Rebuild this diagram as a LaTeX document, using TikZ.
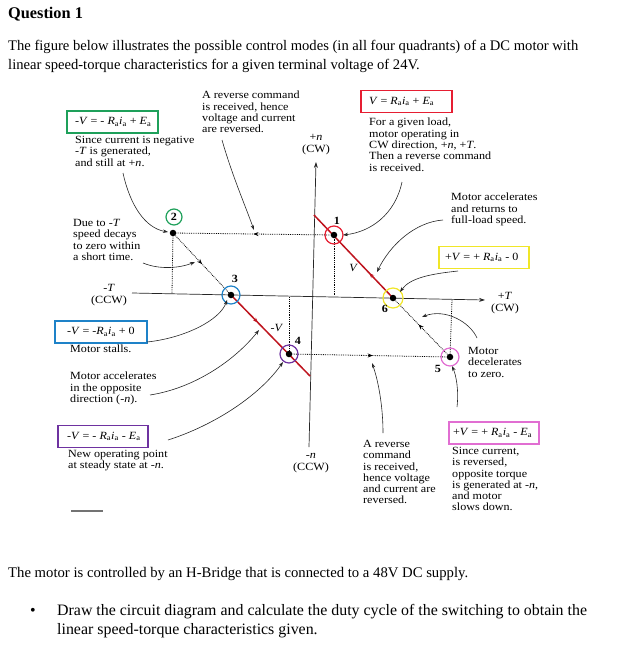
\documentclass[tikz,border=0pt]{standalone}
\usepackage{fontspec}
\setmainfont{Liberation Serif}
\newfontfamily\diagf[FakeStretch=1.1]{Liberation Serif}
\usetikzlibrary{arrows.meta,decorations.markings}
\definecolor{cred}{RGB}{230,30,50}
\definecolor{cgreen}{RGB}{30,160,90}
\definecolor{cblue}{RGB}{30,130,200}
\definecolor{cpurple}{RGB}{110,50,160}
\definecolor{cyellow}{RGB}{240,230,40}
\definecolor{cpink}{RGB}{225,110,210}
\definecolor{redline}{RGB}{190,20,30}
\newcommand\sbx[1]{\textsubscript{#1}}
\newcommand\mv[1]{\textit{#1}}
\newcommand\eqt[2]{\makebox[#1pt][l]{#2}}
\tikzset{
  dtext/.style={font=\diagf\fontsize{11}{11.3}\selectfont, align=left, anchor=north west, inner sep=0pt},
  ctext/.style={font=\diagf\fontsize{11}{12}\selectfont, align=center, anchor=north, inner sep=0pt},
  eqbox/.style={draw=#1, line width=1.1pt, minimum height=22pt, inner ysep=0pt,
    font=\diagf\fontsize{11}{12}\selectfont},
  ring/.style={circle, draw=#1, line width=1.2pt, minimum size=18pt, inner sep=0pt},
  dot/.style={circle, fill=black, minimum size=6.5pt, inner sep=0pt},
  numlab/.style={font=\diagf\bfseries\fontsize{11}{12}\selectfont, inner sep=0pt},
  axisline/.style={line width=0.7pt, black!85, -{Stealth[length=6pt,width=4pt]}},
  dotline/.style={densely dotted, line width=0.8pt},
  annot/.style={line width=0.6pt, black!85, -{Stealth[length=5pt,width=3.5pt]}},
  marr/.style={postaction={decorate,decoration={markings,mark=at position #1 with {\arrow{Stealth[length=5pt,width=4pt]}}}}},
  redseg/.style={line width=1.5pt, redline},
  body/.style={font=\fontsize{14.6}{17}\selectfont, anchor=base west, inner sep=0pt},
}
\begin{document}
\begin{tikzpicture}[x=1pt,y=-1pt]
\useasboundingbox (0,0) rectangle (619,670);
% header
\node[font=\bfseries\fontsize{16.3}{19}\selectfont, anchor=base west, inner sep=0pt] (q1) at (8,18) {Question 1};
\node[body] (b1) at (8,50) {The figure below illustrates the possible control modes (in all four quadrants) of a DC motor with};
\node[body] (b2) at (8,69) {linear speed-torque characteristics for a given terminal voltage of 24V.};
\node[body, font=\fontsize{14.7}{17}\selectfont] (b3) at (8,577) {The motor is controlled by an H-Bridge that is connected to a 48V DC supply.};
\node[body, font=\fontsize{15.9}{18}\selectfont] (bul) at (30,615) {\textbullet};
\node[body, font=\fontsize{15.9}{18}\selectfont] (b4) at (57,615) {Draw the circuit diagram and calculate the duty cycle of the switching to obtain the};
\node[body, font=\fontsize{15.9}{18}\selectfont] (b5) at (57,634) {linear speed-torque characteristics given.};

% coordinates
\coordinate (p1) at (334,235);
\coordinate (p2) at (173,233);
\coordinate (p3) at (231,295);
\coordinate (p4) at (289,354);
\coordinate (p5) at (450,357);
\coordinate (p6) at (393,298);
\coordinate (redtop) at (314,215);
\coordinate (redend) at (310,376);
\coordinate (vtop) at (316,162);
\coordinate (vbot) at (309,447);
\coordinate (hleft) at (132,293);
\coordinate (hright) at (485,300);
\coordinate (a1) at (334,296);
\coordinate (a2) at (172,293);
\coordinate (a4) at (289,297);
\coordinate (a5) at (452,300);

% axes
\draw[axisline] (vbot) -- (vtop);
\draw[axisline] (hleft) -- (hright);

% dotted lines
\draw[dotline, marr=0.5] (p1) -- (p2);
\draw[dotline] (p1) -- (a1);
\draw[dotline] (p2) -- (a2);
\draw[dotline, marr=0.5] (p2) -- (p3);
\draw[dotline] (p4) -- (a4);
\draw[dotline, marr=0.52] (p4) -- (p5);
\draw[dotline] (p5) -- (a5);
\draw[dotline, marr=0.55] (p5) -- (p6);

% red lines
\draw[redseg, marr=0.3] (p6) -- (redtop);
\draw[redseg, marr=0.34] (p3) -- (redend);

% points and rings
\foreach \p in {p1,p2,p3,p4,p5,p6} \node[dot] (d\p) at (\p) {};
\node[ring=cred] (r1) at (p1) {};
\node[ring=cblue] (r3) at (p3) {};
\node[ring=cpurple] (r4) at (p4) {};
\node[ring=cpink] (r5) at (p5) {};
\node[ring=cyellow, minimum size=20pt] (r6) at (p6) {};
\node[ring=cgreen, minimum size=16pt, numlab] (n2) at (174,217) {2};

% numbers
\node[numlab] (n1) at (337,221) {1};
\node[numlab] (n3) at (235,279) {3};
\node[numlab] (n4) at (298,341) {4};
\node[numlab] (n5) at (438,369) {5};
\node[numlab] (n6) at (385,309) {6};
\node[font=\diagf\itshape\fontsize{11}{12}\selectfont, inner sep=0pt] (lv) at (353,268) {V};
\node[font=\diagf\fontsize{11}{12}\selectfont, inner sep=0pt] (lmv) at (277,328) {-\mv{V}};

% axis labels
\node[ctext] (tpn) at (316,134) {+\mv{n}\\(CW)};
\node[ctext] (tmT) at (109,284) {-\mv{T}\\(CCW)};
\node[ctext] (tpT) at (505,292) {+\mv{T}\\(CW)};
\node[ctext] (tmn) at (311,453) {-\mv{n}\\(CCW)};

% equation boxes
\node[eqbox=cgreen, inner xsep=8pt] (eg) at (112.5,122) {\eqt{75}{-\mv{V} = - \mv{R}\sbx{a}\mv{i}\sbx{a} + \mv{E}\sbx{a}}};
\node[eqbox=cred, inner xsep=8pt] (er) at (406.5,101.5) {\eqt{75}{\mv{V} = \mv{R}\sbx{a}\mv{i}\sbx{a} + \mv{E}\sbx{a}}};
\node[eqbox=cyellow, inner xsep=6pt] (ey) at (484,257.5) {\eqt{78}{+\mv{V} = + \mv{R}\sbx{a}\mv{i}\sbx{a} - 0}};
\node[eqbox=cblue, inner xsep=12pt] (eb) at (101,332) {\eqt{68}{-\mv{V} = -\mv{R}\sbx{a}\mv{i}\sbx{a} + 0}};
\node[eqbox=cpurple, inner xsep=9pt] (ep) at (103,436.5) {\eqt{72}{-\mv{V} = - \mv{R}\sbx{a}\mv{i}\sbx{a} - \mv{E}\sbx{a}}};
\node[eqbox=cpink, inner xsep=4pt] (ek) at (494,433) {\eqt{82}{+\mv{V} = + \mv{R}\sbx{a}\mv{i}\sbx{a} - \mv{E}\sbx{a}}};

% text blocks
\node[dtext] (trev1) at (202,91) {A reverse command\\is received, hence\\voltage and current\\are reversed.};
\node[dtext] (tsince) at (75,136) {Since current is negative\\-\mv{T} is generated,\\and still at +\mv{n}.};
\node[dtext] (tgiven) at (369,118) {For a given load,\\motor operating in\\CW direction, +\mv{n}, +\mv{T}.\\Then a reverse command\\is received.};
\node[dtext] (tmacc) at (451,193) {Motor accelerates\\and returns to\\full-load speed.};
\node[dtext] (tdue) at (73,219) {Due to -\mv{T}\\speed decays\\to zero within\\a short time.};
\node[dtext] (tstall) at (70,345) {Motor stalls.};
\node[dtext] (tmacc2) at (70,372) {Motor accelerates\\in the opposite\\direction (-\mv{n}).};
\node[dtext] (tnewop) at (68,450) {New operating point\\at steady state at -\mv{n}.};
\node[dtext] (tdec) at (468,347) {Motor\\decelerates\\to zero.};
\node[dtext] (trev2) at (363,440) {A reverse\\command\\is received,\\hence voltage\\and current are\\reversed.};
\node[dtext] (tsince2) at (452,447) {Since current,\\is reversed,\\opposite torque\\is generated at -\mv{n},\\and motor\\slows down.};

% annotation start coordinates
\coordinate (s1) at (222,140);
\coordinate (e1) at (254,230);
\coordinate (s2) at (123,173);
\coordinate (e2) at (168,232);
\coordinate (s3) at (143,263);
\coordinate (e3) at (195,262);
\coordinate (s4) at (402,182);
\coordinate (e4) at (343,235);
\coordinate (s5) at (443,220);
\coordinate (e5) at (377,272);
\coordinate (s6) at (458,271);
\coordinate (e6) at (400,292);
\coordinate (s7) at (477,338);
\coordinate (e7) at (422,317);
\coordinate (s8) at (457,407);
\coordinate (e8) at (452,366);
\coordinate (s9) at (383,433);
\coordinate (e9) at (372,363);
\coordinate (s10) at (147,342);
\coordinate (e10) at (227,300);
\coordinate (s11) at (150,395);
\coordinate (e11) at (259,330);
\coordinate (s12) at (168,440);
\coordinate (e12) at (283,362);

\draw[annot] (s1) .. controls (232,175) and (245,205) .. (e1);
\draw[annot] (s2) .. controls (130,205) and (145,228) .. (e2);
\draw[annot] (s3) .. controls (160,270) and (180,268) .. (e3);
\draw[annot] (s4) .. controls (395,215) and (370,232) .. (e4);
\draw[annot] (s5) .. controls (415,222) and (390,245) .. (e5);
\draw[annot] (s6) .. controls (430,274) and (410,278) .. (e6);
\draw[annot] (s7) .. controls (470,322) and (445,308) .. (e7);
\draw[annot] (s8) .. controls (459,390) and (456,375) .. (e8);
\draw[annot] (s9) .. controls (383,405) and (378,380) .. (e9);
\draw[annot] (s10) .. controls (185,338) and (220,320) .. (e10);
\draw[annot] (s11) .. controls (195,388) and (235,360) .. (e11);
\draw[annot] (s12) .. controls (215,425) and (260,395) .. (e12);

% short grey mark
\coordinate (g1) at (71,511);
\coordinate (g2) at (103,511);
\draw[line width=1.5pt, black!55] (g1) -- (g2);
\end{tikzpicture}
\end{document}
